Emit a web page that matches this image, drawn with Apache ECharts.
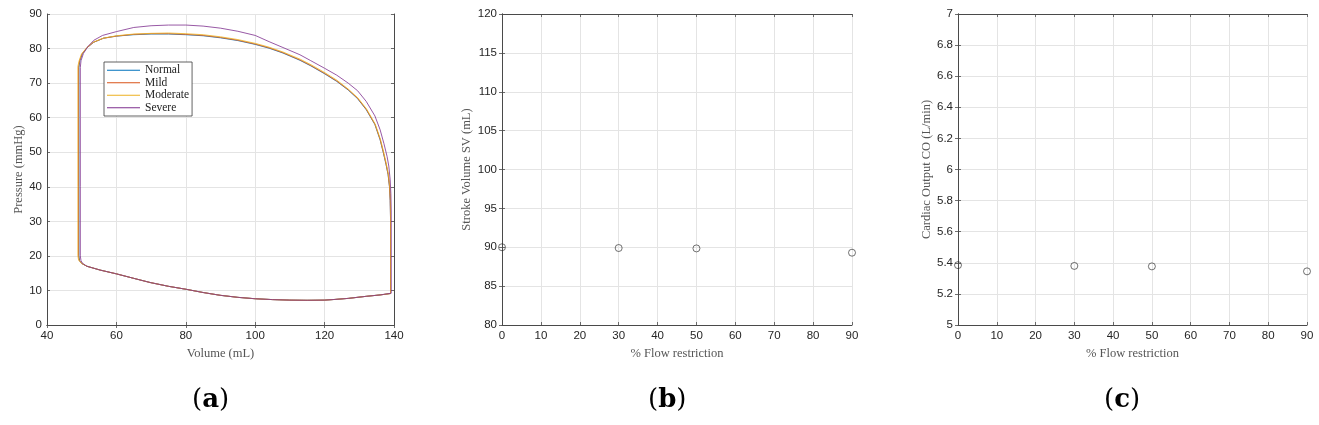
<!DOCTYPE html>
<html>
<head>
<meta charset="utf-8">
<title>PV loops, stroke volume and cardiac output</title>
<script src="https://cdn.jsdelivr.net/npm/echarts@6/dist/echarts.min.js"></script>
<style>
  html, body { margin: 0; padding: 0; background: #fff; }
  #chart { width: 1319px; height: 425px; }
</style>
</head>
<body>
<div id="chart"></div>
<script>
// Panel (a): pressure-volume loops, [volume mL] and [pressure mmHg]
const normalVolume = [139.0, 139.0, 139.0, 138.9, 138.7, 138.3, 137.7, 136.9, 136.0, 134.5, 132.0, 129.5, 126.8, 123.5, 120.0, 116.0, 112.9, 108.0, 104.0, 100.0, 95.0, 90.0, 85.0, 80.0, 75.0, 70.0, 65.0, 60.0, 56.3, 53.4, 51.5, 50.2, 49.5, 49.2, 49.2, 49.2, 49.2, 49.4, 50.0, 51.5, 55.3, 60.0, 65.0, 69.7, 75.0, 80.3, 85.0, 89.9, 95.0, 100.0, 105.0, 110.0, 115.0, 120.0, 123.0, 126.8, 132.0, 136.0, 139.0];
const normalPressure = [9.1, 20.0, 31.0, 36.0, 40.0, 43.5, 46.5, 50.0, 53.6, 58.0, 62.3, 65.5, 68.0, 70.5, 72.7, 75.0, 76.6, 78.7, 80.1, 81.2, 82.3, 83.1, 83.7, 84.0, 84.2, 84.2, 84.0, 83.6, 83.0, 81.8, 80.2, 78.5, 76.5, 74.5, 60.0, 40.0, 20.0, 18.6, 17.8, 17.0, 15.9, 14.8, 13.5, 12.3, 11.2, 10.3, 9.4, 8.6, 8.0, 7.6, 7.35, 7.2, 7.15, 7.2, 7.4, 7.7, 8.3, 8.7, 9.1];

const mildVolume = [139.0, 139.0, 139.0, 138.9, 138.7, 138.3, 137.7, 136.9, 136.0, 134.5, 132.0, 129.5, 126.8, 123.5, 120.0, 116.0, 112.9, 108.0, 104.0, 100.0, 95.0, 90.0, 85.0, 80.0, 75.0, 70.0, 65.0, 60.0, 56.3, 53.4, 51.5, 50.1, 49.4, 49.1, 49.1, 49.1, 49.1, 49.3, 50.0, 51.5, 55.3, 60.0, 65.0, 69.7, 75.0, 80.3, 85.0, 89.9, 95.0, 100.0, 105.0, 110.0, 115.0, 120.0, 123.0, 126.8, 132.0, 136.0, 139.0];
const mildPressure = [9.1, 20.0, 31.0, 36.0, 40.0, 43.6, 46.6, 50.1, 53.7, 58.1, 62.4, 65.6, 68.1, 70.6, 72.8, 75.1, 76.7, 78.8, 80.2, 81.3, 82.4, 83.2, 83.8, 84.1, 84.3, 84.3, 84.1, 83.6, 83.0, 81.8, 80.2, 78.5, 76.5, 74.6, 60.0, 40.0, 20.0, 18.7, 17.8, 17.0, 15.9, 14.8, 13.5, 12.3, 11.2, 10.3, 9.4, 8.6, 8.0, 7.6, 7.35, 7.2, 7.15, 7.2, 7.4, 7.7, 8.3, 8.7, 9.1];

const moderateVolume = [139.0, 139.0, 139.0, 139.0, 138.8, 138.4, 137.8, 137.0, 136.1, 134.6, 132.1, 129.6, 126.9, 123.6, 120.1, 116.1, 113.0, 108.0, 104.0, 100.0, 95.0, 90.0, 85.0, 80.0, 75.0, 70.0, 65.0, 60.0, 56.2, 53.2, 51.3, 49.9, 49.2, 48.9, 48.9, 48.9, 48.9, 49.1, 49.9, 51.5, 55.3, 60.0, 65.0, 69.7, 75.0, 80.3, 85.0, 89.9, 95.0, 100.0, 105.0, 110.0, 115.0, 120.0, 123.0, 126.8, 132.0, 136.0, 139.0];
const moderatePressure = [9.1, 20.0, 31.0, 36.0, 40.0, 43.6, 46.6, 50.1, 53.7, 58.1, 62.5, 65.7, 68.2, 70.8, 73.0, 75.3, 76.9, 79.0, 80.4, 81.5, 82.6, 83.4, 84.0, 84.3, 84.5, 84.4, 84.2, 83.7, 83.0, 81.8, 80.1, 78.3, 76.3, 74.8, 60.0, 40.0, 20.0, 18.8, 17.9, 17.0, 15.9, 14.8, 13.5, 12.3, 11.2, 10.3, 9.4, 8.6, 8.0, 7.6, 7.35, 7.2, 7.15, 7.2, 7.4, 7.7, 8.3, 8.7, 9.1];

const severeVolume = [139.2, 139.2, 139.2, 139.1, 138.9, 138.5, 138.0, 137.1, 136.0, 134.5, 132.0, 129.5, 126.8, 123.5, 120.0, 116.0, 112.9, 108.0, 104.0, 100.0, 95.0, 90.0, 85.0, 80.0, 75.0, 70.0, 65.0, 60.0, 56.0, 53.5, 51.8, 50.5, 49.8, 49.6, 49.6, 49.6, 49.6, 49.8, 50.3, 51.5, 55.3, 60.0, 65.0, 69.7, 75.0, 80.3, 85.0, 89.9, 95.0, 100.0, 105.0, 110.0, 115.0, 120.0, 123.0, 126.8, 132.0, 136.0, 139.2];
const severePressure = [9.2, 20.0, 33.0, 38.0, 42.0, 46.0, 48.8, 52.5, 56.5, 60.5, 64.7, 67.8, 70.0, 72.3, 74.3, 76.5, 78.2, 80.3, 82.0, 83.8, 85.0, 85.9, 86.5, 86.8, 86.8, 86.6, 86.1, 84.9, 83.8, 82.4, 80.6, 78.6, 76.5, 74.5, 60.0, 40.0, 20.0, 18.6, 17.8, 17.0, 15.9, 14.8, 13.5, 12.3, 11.2, 10.3, 9.4, 8.6, 8.0, 7.6, 7.35, 7.2, 7.15, 7.2, 7.4, 7.7, 8.3, 8.7, 9.2];

const loopNames = ['Normal', 'Mild', 'Moderate', 'Severe'];
const loopColors = ['#0072BD', '#D95319', '#EDB120', '#7E2F8E'];

// Panels (b) and (c)
const flowRestriction = [0, 30, 50, 90];
const strokeVolume = [90.0, 89.9, 89.85, 89.3];
const cardiacOutput = [5.385, 5.38, 5.377, 5.345];

const TICK_FONT = '"Liberation Sans", Arial, sans-serif';
const NAME_FONT = '"Liberation Serif", "Times New Roman", serif';
const FRAME = '#4a4a4a';
const GRID_LINE = '#e4e4e4';

function zip(xs, ys) {
  return xs.map((x, i) => [x, ys[i]]);
}

// bottom/left axes carry labels and grid lines, top/right only close the box
function makeAxes(gridIndex, xr, yr, xName, yName, yNameGap) {
  const tick = { show: true, inside: true, length: 3, lineStyle: { color: FRAME, width: 0.8 } };
  const line = { show: true, lineStyle: { color: FRAME, width: 1 } };
  const label = { color: '#262626', fontFamily: TICK_FONT, fontSize: 11.5 };
  const nameStyle = { color: '#555', fontFamily: NAME_FONT, fontSize: 12.5 };
  const x = [
    {
      type: 'value', gridIndex, position: 'bottom', min: xr[0], max: xr[1], interval: xr[2],
      axisLine: line, axisTick: tick, axisLabel: Object.assign({ margin: 5 }, label),
      splitLine: { show: true, lineStyle: { color: GRID_LINE, width: 1 } },
      name: xName, nameLocation: 'middle', nameGap: 20, nameTextStyle: nameStyle
    },
    {
      type: 'value', gridIndex, position: 'top', min: xr[0], max: xr[1], interval: xr[2],
      axisLine: line, axisTick: tick, axisLabel: { show: false }, splitLine: { show: false }
    }
  ];
  const y = [
    {
      type: 'value', gridIndex, position: 'left', min: yr[0], max: yr[1], interval: yr[2],
      axisLine: line, axisTick: tick, axisLabel: Object.assign({ margin: 5 }, label),
      splitLine: { show: true, lineStyle: { color: GRID_LINE, width: 1 } },
      name: yName, nameLocation: 'middle', nameGap: yNameGap, nameTextStyle: nameStyle
    },
    {
      type: 'value', gridIndex, position: 'right', min: yr[0], max: yr[1], interval: yr[2],
      axisLine: line, axisTick: tick, axisLabel: { show: false }, splitLine: { show: false }
    }
  ];
  return { x, y };
}

function panelLabel(letter, cx) {
  return {
    type: 'text',
    left: cx - 20,
    top: 387,
    style: {
      text: '{p|(}{b|' + letter + '}{p|)}',
      rich: {
        p: { fontFamily: '"DejaVu Serif", serif', fontSize: 26, fill: '#000' },
        b: { fontFamily: '"DejaVu Serif", serif', fontSize: 26, fontWeight: 'bold', fill: '#000' }
      }
    }
  };
}

function initChart() {
  const chartDom = document.getElementById('chart');
  const chart = echarts.init(chartDom, null, { renderer: 'canvas' });

  const a = makeAxes(0, [40, 140, 20], [0, 90, 10], 'Volume (mL)', 'Pressure (mmHg)', 22);
  const b = makeAxes(1, [0, 90, 10], [80, 120, 5], '% Flow restriction', 'Stroke Volume SV (mL)', 29);
  const c = makeAxes(2, [0, 90, 10], [5, 7, 0.2], '% Flow restriction', 'Cardiac Output CO (L/min)', 25);

  const loops = [
    zip(normalVolume, normalPressure),
    zip(mildVolume, mildPressure),
    zip(moderateVolume, moderatePressure),
    zip(severeVolume, severePressure)
  ];

  const loopSeries = loops.map((data, i) => ({
    name: loopNames[i],
    type: 'line',
    xAxisIndex: 0,
    yAxisIndex: 0,
    data: data,
    symbol: 'none',
    smooth: false,
    color: loopColors[i],
    lineStyle: { width: 1, color: loopColors[i], opacity: 0.8 },
    z: 2 + i
  }));

  const circle = {
    type: 'scatter',
    symbol: 'circle',
    symbolSize: 7,
    clip: false,
    itemStyle: { color: 'rgba(0,0,0,0)', borderColor: '#222', borderWidth: 0.8 },
    z: 5
  };

  chart.setOption({
    animation: false,
    backgroundColor: '#fff',
    grid: [
      { left: 47, top: 14, width: 347, height: 311 },
      { left: 502, top: 14, width: 350, height: 311 },
      { left: 958, top: 14, width: 349, height: 311 }
    ],
    xAxis: [].concat(a.x, b.x, c.x),
    yAxis: [].concat(a.y, b.y, c.y),
    legend: {
      data: loopNames,
      orient: 'vertical',
      left: 104,
      top: 62,
      icon: 'rect',
      itemWidth: 33,
      itemHeight: 1.2,
      itemGap: 0,
      padding: [2, 3, 2, 3],
      backgroundColor: '#fff',
      borderColor: '#3a3a3a',
      borderWidth: 0.8,
      borderRadius: 0,
      textStyle: { fontFamily: NAME_FONT, fontSize: 11.5, color: '#222', lineHeight: 12.5 }
    },
    series: loopSeries.concat([
      Object.assign({}, circle, { name: 'SV', xAxisIndex: 2, yAxisIndex: 2, data: zip(flowRestriction, strokeVolume) }),
      Object.assign({}, circle, { name: 'CO', xAxisIndex: 4, yAxisIndex: 4, data: zip(flowRestriction, cardiacOutput) })
    ]),
    graphic: [
      panelLabel('a', 212),
      panelLabel('b', 668),
      panelLabel('c', 1124)
    ]
  });
  return chart;
}

initChart();
</script>
</body>
</html>
